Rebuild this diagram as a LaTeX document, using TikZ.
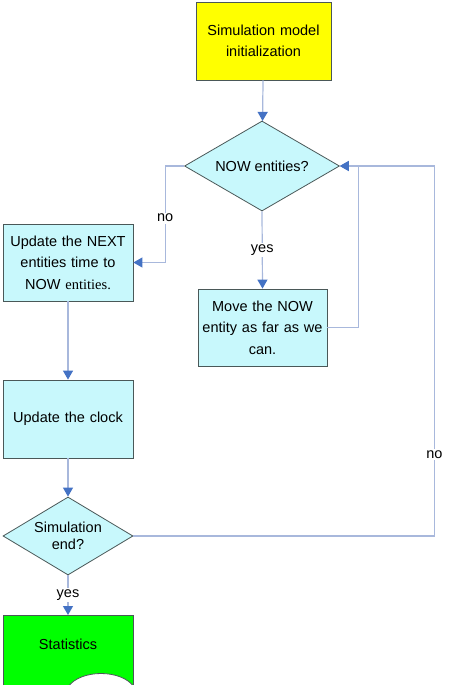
\documentclass[tikz,border=0pt]{standalone}
\usepackage{fontspec}
\setmainfont{Liberation Sans}
\newfontfamily\timesfont{Liberation Serif}
\usepackage{xcolor}
\definecolor{boxline}{HTML}{4A5858}
\definecolor{linkline}{HTML}{A8B8DC}
\definecolor{tipblue}{HTML}{4472C4}
\definecolor{procfill}{HTML}{C8F8FC}
\definecolor{initfill}{HTML}{FFFF00}
\definecolor{statfill}{HTML}{00FF00}
\usetikzlibrary{shapes.geometric,arrows.meta,positioning,calc}

\begin{document}
\begin{tikzpicture}[x=1pt,y=-1pt,
    every node/.style={font=\fontsize{14.5}{21.5}\selectfont},
    procbox/.style={draw=boxline, line width=0.8pt, fill=procfill, align=center,
      minimum width=130pt, minimum height=77pt, text width=122pt, inner sep=0pt},
    decision/.style={diamond, draw=boxline, line width=0.8pt, fill=procfill,
      align=center, inner sep=0pt},
    link/.style={draw=linkline, line width=1.2pt,
      -{Triangle[width=10pt,length=9pt,color=tipblue]}},
    tag/.style={fill=white, inner sep=1.5pt}]
  \useasboundingbox (0,0) rectangle (474,685);

  % boxes
  \node[procbox, fill=initfill, minimum width=135pt, minimum height=78pt] (init) at (263.5,41)
    {Simulation model\\initialization};
  \node[decision, minimum width=155pt, minimum height=90pt, aspect=1.72] (nowq) at (262,166)
    {NOW entities?};
  \node[procbox] (next) at (68,262.5)
    {Update the NEXT\\entities time to\\NOW {\timesfont entities.}};
  \node[procbox, minimum width=129pt] (move) at (262.5,327.5)
    {Move the NOW\\entity as far as we\\can.};
  \node[procbox, minimum height=78pt] (clock) at (68,419) {Update the clock};
  \node[decision, minimum width=130pt, minimum height=78pt, aspect=1.67,
    font=\fontsize{14.5}{17.5}\selectfont] (endq) at (68,536) {Simulation\\end?};
  \node[procbox, fill=statfill, minimum height=90pt, anchor=north] (stats) at (68,615) {};
  \node (statstext) at (68,644) {Statistics};
  \draw[boxline, line width=0.8pt, fill=white]
    (68,687) .. controls (80,669) and (122,669) .. (134,687);

  % connectors
  \draw[link] (init) -- (nowq);
  \draw[link] (nowq.west) -- ++(-19,0) |- node[tag, pos=0.27] {no} (next.east);
  \draw[link] (nowq.south) -- node[tag] {yes} (move.north);
  \draw[link] (move.east) -- ++(31,0) |- (nowq.east);
  \draw[link] (next) -- (clock);
  \draw[link] (clock) -- (endq);
  \draw[link] (endq.east) -- ++(301,0) |- node[tag, pos=0.11] {no} (nowq.east);
  \draw[link] (endq.south) -- node[tag] {yes} (stats.north);
\end{tikzpicture}
\end{document}
